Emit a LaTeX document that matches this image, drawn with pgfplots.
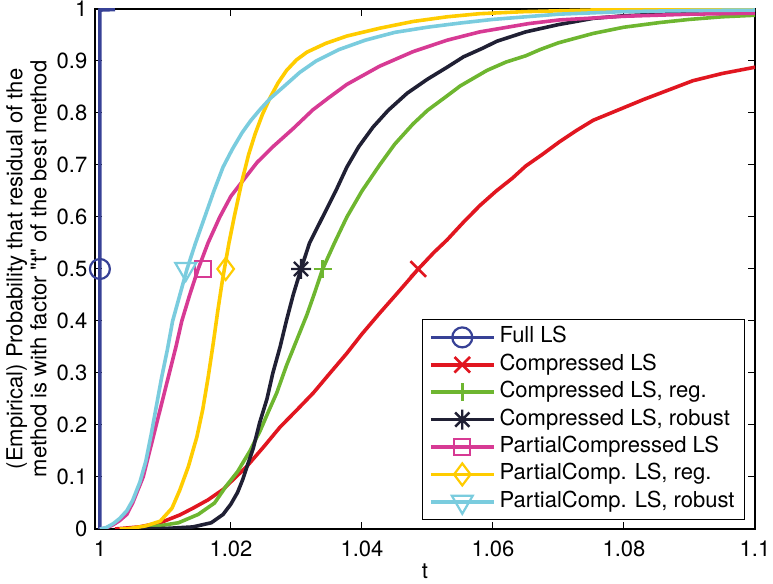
\documentclass[border=0pt]{standalone}
\usepackage{fontspec}
\setmainfont{TeX Gyre Heros}
\newfontfamily\qfont{TeX Gyre Heros}
\usepackage{pgfplots}
\pgfplotsset{compat=1.18}
\definecolor{cBlue}{RGB}{55,65,150}
\definecolor{cRed}{RGB}{225,22,32}
\definecolor{cGreen}{RGB}{110,182,48}
\definecolor{cBlack}{RGB}{32,32,52}
\definecolor{cMag}{RGB}{215,58,148}
\definecolor{cYel}{RGB}{255,204,0}
\definecolor{cCyan}{RGB}{122,204,222}
\pgfdeclareplotmark{mstar}{%
 \pgfpathmoveto{\pgfqpoint{0pt}{\pgfplotmarksize}}\pgfpathlineto{\pgfqpoint{0pt}{-\pgfplotmarksize}}%
 \pgfpathmoveto{\pgfqpoint{\pgfplotmarksize}{0pt}}\pgfpathlineto{\pgfqpoint{-\pgfplotmarksize}{0pt}}%
 \pgfpathmoveto{\pgfqpoint{.7071\pgfplotmarksize}{.7071\pgfplotmarksize}}\pgfpathlineto{\pgfqpoint{-.7071\pgfplotmarksize}{-.7071\pgfplotmarksize}}%
 \pgfpathmoveto{\pgfqpoint{.7071\pgfplotmarksize}{-.7071\pgfplotmarksize}}\pgfpathlineto{\pgfqpoint{-.7071\pgfplotmarksize}{.7071\pgfplotmarksize}}%
 \pgfusepathqstroke}
\begin{document}
\fontsize{11}{13}\selectfont
\begin{tikzpicture}
\useasboundingbox (-47.5pt,-27.5pt) rectangle (339pt,264.5pt);
\begin{axis}[
 scale only axis, width=330pt, height=260pt,
 at={(0pt,0pt)}, anchor=south west,
 xmin=0.99925, xmax=1.1, ymin=0, ymax=1,
 xtick={1,1.02,1.04,1.06,1.08,1.1},
 xticklabels={1,1.02,1.04,1.06,1.08,1.1},
 ytick={0,0.1,0.2,0.3,0.4,0.5,0.6,0.7,0.8,0.9,1},
 yticklabels={0,0.1,0.2,0.3,0.4,0.5,0.6,0.7,0.8,0.9,1},
 /pgf/number format/assume math mode=true,
 tick align=inside, major tick length=3.5pt,
 tick style={black, line width=0.5pt},
 axis line style={black, line width=0.6pt},
 xticklabel style={anchor=base, yshift=-14pt},
 xlabel={t},
 xlabel style={at={(axis description cs:0.5,0)}, anchor=base, yshift=-25pt},
 ylabel={(Empirical) Probability that residual of the\\method is with factor {\qfont"t"} of the best method},
 ylabel style={at={(axis description cs:-0.0615,0.5)}, anchor=south, align=center, font=\fontsize{11}{12}\selectfont},
 legend style={at={(0.985,0.0173)}, anchor=south east, draw=black, line width=0.5pt, fill=white,
   font=\fontsize{11}{13}\selectfont, cells={anchor=west},
   nodes={text height=8pt, text depth=2.5pt, inner ysep=1.6pt}},
 legend image code/.code={\draw[mark repeat=2,mark phase=2] plot coordinates {(0pt,0pt) (15.75pt,0pt) (31.5pt,0pt)};},
 clip=true,
]
% Full LS
\addplot[cBlue, line width=1.8pt, forget plot] coordinates {(1,0) (1,0.998) (1.0023,0.999)};
\addplot[cBlue, line width=1.8pt, mark=o, mark size=5pt, mark options={solid, line width=1.1pt}] coordinates {(1,0.5)};
% Compressed LS
\addplot[cRed, line width=1.8pt, forget plot] coordinates {
(1.0023,0) (1.006,0.004) (1.0092,0.012) (1.0122,0.027) (1.0142,0.04) (1.0165,0.056) (1.0188,0.076)
(1.0205,0.097) (1.0224,0.12) (1.025,0.158) (1.0275,0.196) (1.03,0.228) (1.0326,0.262) (1.035,0.298)
(1.0377,0.338) (1.04,0.375) (1.0427,0.415) (1.0455,0.455) (1.0486,0.5) (1.051,0.532) (1.053,0.556)
(1.0555,0.59) (1.058,0.622) (1.0605,0.65) (1.063,0.675) (1.065,0.698) (1.0675,0.72) (1.0702,0.745)
(1.0727,0.766) (1.0753,0.786) (1.078,0.8) (1.0805,0.813) (1.083,0.826) (1.0855,0.838) (1.088,0.85)
(1.0905,0.862) (1.095,0.876) (1.1,0.888) (1.102,0.893)};
\addplot[cRed, line width=1.8pt, mark=x, mark size=5.5pt, mark options={solid, line width=1.3pt}] coordinates {(1.0486,0.5)};
% Compressed LS, reg.
\addplot[cGreen, line width=1.8pt, forget plot] coordinates {
(1.004,0) (1.008,0.004) (1.012,0.012) (1.015,0.028) (1.0175,0.05) (1.0193,0.083) (1.021,0.11)
(1.0229,0.15) (1.0245,0.19) (1.0258,0.228) (1.027,0.262) (1.0285,0.315) (1.03,0.362) (1.0316,0.412)
(1.0328,0.455) (1.034,0.5) (1.0358,0.55) (1.0377,0.6) (1.04,0.65) (1.0427,0.7) (1.045,0.74)
(1.0478,0.779) (1.05,0.805) (1.053,0.833) (1.055,0.852) (1.0591,0.882) (1.062,0.898) (1.065,0.91)
(1.0672,0.922) (1.07,0.935) (1.0753,0.953) (1.08,0.965) (1.0855,0.974) (1.09,0.98) (1.095,0.985) (1.1,0.988)};
\addplot[cGreen, line width=1.8pt, mark=+, mark size=4.5pt, mark options={solid, line width=1.3pt}] coordinates {(1.034,0.5)};
% Compressed LS, robust
\addplot[cBlack, line width=1.8pt, forget plot] coordinates {
(1.006,0) (1.01,0.001) (1.0142,0.004) (1.017,0.012) (1.0188,0.028) (1.02,0.048) (1.021,0.07)
(1.0218,0.095) (1.0224,0.118) (1.0234,0.155) (1.0244,0.205) (1.0255,0.25) (1.0264,0.3) (1.0275,0.35)
(1.0285,0.402) (1.0295,0.45) (1.0307,0.5) (1.032,0.55) (1.034,0.6) (1.036,0.65) (1.0377,0.696)
(1.0395,0.735) (1.0417,0.773) (1.044,0.805) (1.0469,0.838) (1.05,0.865) (1.053,0.888) (1.0555,0.908)
(1.0585,0.925) (1.0606,0.938) (1.065,0.956) (1.07,0.97) (1.0753,0.982) (1.08,0.987) (1.0855,0.99)
(1.09,0.992) (1.1,0.995)};
\addplot[cBlack, line width=1.8pt, mark=mstar, mark size=5pt, mark options={solid, line width=1.2pt}] coordinates {(1.0307,0.5)};
% PartialCompressed LS
\addplot[cMag, line width=1.8pt, forget plot] coordinates {
(1.0,0) (1.001,0.002) (1.002,0.008) (1.003,0.016) (1.0041,0.028) (1.005,0.05) (1.0058,0.075)
(1.0066,0.1) (1.0074,0.14) (1.0082,0.18) (1.009,0.22) (1.0098,0.26) (1.0106,0.3) (1.0116,0.35)
(1.0125,0.4) (1.0137,0.45) (1.015,0.5) (1.0165,0.55) (1.0183,0.6) (1.02,0.64) (1.0219,0.671)
(1.024,0.705) (1.0264,0.735) (1.0295,0.77) (1.0325,0.806) (1.035,0.83) (1.0377,0.855) (1.0427,0.89)
(1.0478,0.918) (1.053,0.94) (1.058,0.956) (1.0655,0.972) (1.0702,0.979) (1.08,0.986) (1.09,0.99) (1.1,0.992)};
\addplot[cMag, line width=1.8pt, mark=square, mark size=4pt, mark options={solid, line width=1.1pt}] coordinates {(1.0157,0.5)};
% PartialComp. LS, reg.
\addplot[cYel, line width=1.8pt, forget plot] coordinates {
(1.003,0) (1.0046,0.001) (1.007,0.006) (1.0092,0.015) (1.011,0.04) (1.0122,0.075) (1.0135,0.12)
(1.0148,0.177) (1.0157,0.23) (1.0165,0.29) (1.0173,0.357) (1.018,0.42) (1.0186,0.47) (1.019,0.5)
(1.0197,0.55) (1.0205,0.6) (1.0217,0.67) (1.0227,0.72) (1.0237,0.76) (1.0248,0.797) (1.026,0.83)
(1.0272,0.858) (1.0285,0.882) (1.03,0.902) (1.0316,0.917) (1.0345,0.934) (1.0377,0.948) (1.0427,0.963)
(1.0478,0.976) (1.053,0.985) (1.058,0.991) (1.065,0.995) (1.075,0.998) (1.1,1)};
\addplot[cYel, line width=1.8pt, mark=diamond, mark size=5.5pt, mark options={solid, line width=1.1pt}] coordinates {(1.0192,0.5)};
% PartialComp. LS, robust
\addplot[cCyan, line width=1.8pt, forget plot] coordinates {
(1.0,0) (1.001,0.003) (1.002,0.01) (1.003,0.02) (1.0041,0.035) (1.005,0.055) (1.0061,0.09)
(1.007,0.13) (1.0078,0.18) (1.0086,0.235) (1.0094,0.29) (1.0103,0.345) (1.0111,0.4) (1.0122,0.45)
(1.0133,0.5) (1.0146,0.55) (1.016,0.6) (1.0174,0.65) (1.0188,0.696) (1.0202,0.73) (1.0217,0.762)
(1.023,0.785) (1.0244,0.806) (1.026,0.828) (1.028,0.85) (1.0305,0.878) (1.033,0.9) (1.0365,0.922)
(1.0405,0.94) (1.045,0.955) (1.05,0.965) (1.055,0.973) (1.06,0.98) (1.07,0.99) (1.08,0.995)
(1.09,0.997) (1.1,0.998)};
\addplot[cCyan, line width=1.8pt, mark=triangle, mark size=6pt, mark options={solid, line width=1.1pt, rotate=180}] coordinates {(1.0131,0.5)};
\legend{Full LS, Compressed LS, {Compressed LS, reg.}, {Compressed LS, robust}, PartialCompressed LS, {PartialComp. LS, reg.}, {PartialComp. LS, robust}}
\end{axis}
\end{tikzpicture}
\end{document}
